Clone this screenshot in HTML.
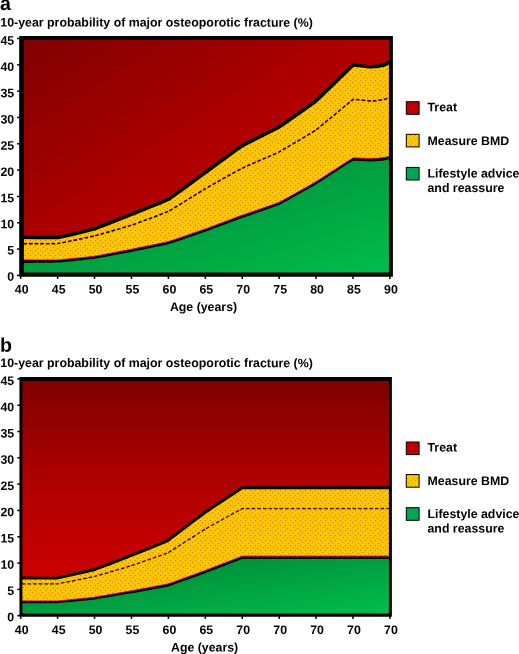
<!DOCTYPE html>
<html lang="en"><head><meta charset="utf-8"><title>Figure</title>
<style>
html,body{margin:0;padding:0;background:#fff;}
body{width:519px;height:654px;overflow:hidden;font-family:"Liberation Sans",Arial,sans-serif;}
svg{display:block;}
</style></head><body>
<svg width="519" height="654" viewBox="0 0 519 654">
<defs>
<linearGradient id="gred1" gradientUnits="userSpaceOnUse" x1="24.0" y1="40.2" x2="234.5" y2="370.7"><stop offset="0" stop-color="#800000"/><stop offset="0.233" stop-color="#980000"/><stop offset="0.37" stop-color="#a50000"/><stop offset="0.447" stop-color="#ad0000"/><stop offset="0.52" stop-color="#b10000"/><stop offset="1" stop-color="#c80000"/></linearGradient>
<linearGradient id="gred2" gradientUnits="userSpaceOnUse" x1="0" y1="380.8" x2="0" y2="613.1"><stop offset="0" stop-color="#800000"/><stop offset="0.168" stop-color="#910000"/><stop offset="0.42" stop-color="#ae0000"/><stop offset="0.77" stop-color="#c60000"/><stop offset="1" stop-color="#d00000"/></linearGradient>
<linearGradient id="ggreen1" gradientUnits="userSpaceOnUse" x1="24.0" y1="157.0" x2="90.5" y2="366.9"><stop offset="0" stop-color="#007f33"/><stop offset="1" stop-color="#00bd4c"/></linearGradient>
<linearGradient id="ggreen2" gradientUnits="userSpaceOnUse" x1="22.6" y1="558.8" x2="38.4" y2="665.1"><stop offset="0" stop-color="#007f33"/><stop offset="1" stop-color="#00bd4c"/></linearGradient>
<pattern id="dots" width="10" height="10" patternUnits="userSpaceOnUse"><g fill="#6e5200" fill-opacity="0.52"><rect x="0" y="0" width="1" height="1"/><rect x="5" y="0" width="1" height="1"/><rect x="2" y="2" width="1" height="1"/><rect x="8" y="3" width="1" height="1"/><rect x="0" y="5" width="1" height="1"/><rect x="5" y="5" width="1" height="1"/><rect x="3" y="7" width="1" height="1"/><rect x="7" y="8" width="1" height="1"/></g></pattern>
</defs>
<rect width="519" height="654" fill="#fff"/>
<g>
<clipPath id="clip1"><rect x="22.9" y="39.1" width="367.00" height="234.40"/></clipPath>
<g clip-path="url(#clip1)">
<rect x="22.9" y="39.1" width="367.00" height="234.40" fill="url(#gred1)"/>
<path d="M17.90,237.30 C17.90,237.30 20.70,237.30 20.70,237.30 C20.70,237.30 55.16,237.68 57.62,237.40 C60.08,237.12 90.85,229.95 94.54,228.80 C98.23,227.65 128.38,215.63 131.46,214.40 C134.54,213.17 165.30,201.04 168.38,199.30 C171.46,197.56 202.22,174.83 205.30,172.60 C208.38,170.37 239.14,147.70 242.22,145.80 C245.30,143.90 276.06,128.78 279.14,126.90 C282.22,125.03 312.37,103.88 316.06,100.80 C319.75,97.72 351.87,65.88 352.98,65.20 C354.09,64.52 366.79,66.83 371.44,66.80 C376.09,66.77 381.22,65.72 383.99,65.00 C386.76,64.28 389.35,62.15 389.90,62.00 C390.45,61.85 394.90,62.00 394.90,62.00 L394.9,278.5 L17.9,278.5 Z" fill="#FFC307"/>
<path d="M17.90,237.30 C17.90,237.30 20.70,237.30 20.70,237.30 C20.70,237.30 55.16,237.68 57.62,237.40 C60.08,237.12 90.85,229.95 94.54,228.80 C98.23,227.65 128.38,215.63 131.46,214.40 C134.54,213.17 165.30,201.04 168.38,199.30 C171.46,197.56 202.22,174.83 205.30,172.60 C208.38,170.37 239.14,147.70 242.22,145.80 C245.30,143.90 276.06,128.78 279.14,126.90 C282.22,125.03 312.37,103.88 316.06,100.80 C319.75,97.72 351.87,65.88 352.98,65.20 C354.09,64.52 366.79,66.83 371.44,66.80 C376.09,66.77 381.22,65.72 383.99,65.00 C386.76,64.28 389.35,62.15 389.90,62.00 C390.45,61.85 394.90,62.00 394.90,62.00 L394.9,278.5 L17.9,278.5 Z" fill="url(#dots)"/>
<path d="M17.90,259.90 C17.90,259.90 20.70,259.90 20.70,259.90 C20.70,259.90 55.16,260.07 57.62,259.95 C60.08,259.83 90.85,256.73 94.54,256.20 C98.23,255.67 128.38,249.91 131.46,249.30 C134.54,248.69 165.30,242.45 168.38,241.60 C171.46,240.75 202.22,230.10 205.30,229.00 C208.38,227.90 239.14,216.31 242.22,215.20 C245.30,214.09 276.06,203.70 279.14,202.30 C282.22,200.90 312.37,183.91 316.06,181.70 C319.75,179.48 351.87,158.46 352.98,158.00 C354.09,157.54 366.79,158.66 371.44,158.60 C376.09,158.54 381.22,157.99 383.99,157.60 C386.76,157.21 389.35,156.08 389.90,156.00 C390.45,155.92 394.90,156.00 394.90,156.00 L394.9,278.5 L17.9,278.5 Z" fill="#000"/>
<path d="M17.90,259.90 C17.90,259.90 20.70,259.90 20.70,259.90 C20.70,259.90 55.16,260.07 57.62,259.95 C60.08,259.83 90.85,256.73 94.54,256.20 C98.23,255.67 128.38,249.91 131.46,249.30 C134.54,248.69 165.30,242.45 168.38,241.60 C171.46,240.75 202.22,230.10 205.30,229.00 C208.38,227.90 239.14,216.31 242.22,215.20 C245.30,214.09 276.06,203.70 279.14,202.30 C282.22,200.90 312.37,183.91 316.06,181.70 C319.75,179.48 351.87,158.46 352.98,158.00 C354.09,157.54 366.79,158.66 371.44,158.60 C376.09,158.54 381.22,157.99 383.99,157.60 C386.76,157.21 389.35,156.08 389.90,156.00 C390.45,155.92 394.90,156.00 394.90,156.00" fill="none" stroke="#c40000" stroke-width="0.9"/>
<path d="M17.90,263.10 C17.90,263.10 20.70,263.10 20.70,263.10 C20.70,263.10 55.16,262.70 57.62,262.55 C60.08,262.40 90.85,259.23 94.54,258.70 C98.23,258.17 128.38,252.50 131.46,251.90 C134.54,251.30 165.30,245.14 168.38,244.30 C171.46,243.46 202.22,232.90 205.30,231.80 C208.38,230.70 239.14,219.11 242.22,218.00 C245.30,216.89 276.06,206.50 279.14,205.10 C282.22,203.70 312.37,186.72 316.06,184.50 C319.75,182.28 351.87,161.26 352.98,160.80 C354.09,160.34 366.79,161.46 371.44,161.40 C376.09,161.34 381.22,160.79 383.99,160.40 C386.76,160.01 389.35,158.88 389.90,158.80 C390.45,158.72 394.90,158.80 394.90,158.80 L394.9,278.5 L17.9,278.5 Z" fill="url(#ggreen1)"/>
<path d="M17.90,243.70 C17.90,243.70 20.70,243.70 20.70,243.70 C20.70,243.70 55.16,243.96 57.62,243.70 C60.08,243.44 90.85,236.92 94.54,236.00 C98.23,235.08 128.38,226.32 131.46,225.30 C134.54,224.28 165.30,213.02 168.38,211.50 C171.46,209.98 202.22,190.60 205.30,188.80 C208.38,187.00 239.14,169.83 242.22,168.30 C245.30,166.77 276.06,153.60 279.14,152.00 C282.22,150.40 312.37,132.62 316.06,130.00 C319.75,127.38 351.87,100.18 352.98,99.60 C354.09,99.02 366.79,101.00 371.44,101.00 C376.09,101.00 381.22,100.14 383.99,99.60 C386.76,99.06 389.35,97.51 389.90,97.40 C390.45,97.29 394.90,97.40 394.90,97.40" transform="translate(-0.3,-0.5)" fill="none" stroke="#c80000" stroke-width="0.78" stroke-dasharray="3.6 2"/>
<path d="M17.90,243.70 C17.90,243.70 20.70,243.70 20.70,243.70 C20.70,243.70 55.16,243.96 57.62,243.70 C60.08,243.44 90.85,236.92 94.54,236.00 C98.23,235.08 128.38,226.32 131.46,225.30 C134.54,224.28 165.30,213.02 168.38,211.50 C171.46,209.98 202.22,190.60 205.30,188.80 C208.38,187.00 239.14,169.83 242.22,168.30 C245.30,166.77 276.06,153.60 279.14,152.00 C282.22,150.40 312.37,132.62 316.06,130.00 C319.75,127.38 351.87,100.18 352.98,99.60 C354.09,99.02 366.79,101.00 371.44,101.00 C376.09,101.00 381.22,100.14 383.99,99.60 C386.76,99.06 389.35,97.51 389.90,97.40 C390.45,97.29 394.90,97.40 394.90,97.40" fill="none" stroke="#140000" stroke-width="1.37" stroke-dasharray="3.6 2"/>
<path d="M17.90,237.30 C17.90,237.30 20.70,237.30 20.70,237.30 C20.70,237.30 55.16,237.68 57.62,237.40 C60.08,237.12 90.85,229.95 94.54,228.80 C98.23,227.65 128.38,215.63 131.46,214.40 C134.54,213.17 165.30,201.04 168.38,199.30 C171.46,197.56 202.22,174.83 205.30,172.60 C208.38,170.37 239.14,147.70 242.22,145.80 C245.30,143.90 276.06,128.78 279.14,126.90 C282.22,125.03 312.37,103.88 316.06,100.80 C319.75,97.72 351.87,65.88 352.98,65.20 C354.09,64.52 366.79,66.83 371.44,66.80 C376.09,66.77 381.22,65.72 383.99,65.00 C386.76,64.28 389.35,62.15 389.90,62.00 C390.45,61.85 394.90,62.00 394.90,62.00" fill="none" stroke="#000" stroke-width="3.5" stroke-linejoin="round"/>
</g>
<path fill-rule="evenodd" fill="#000" d="M19.2,35.9 H392.9 V276.8 H19.2 Z M23.9,40.1 H388.9 V272.5 H23.9 Z"/>
<g font-family="Liberation Sans, Arial, Helvetica, sans-serif" font-weight="bold">
<line x1="17.10" y1="275.40" x2="19.7" y2="275.40" stroke="#000" stroke-width="1.5"/>
<text transform="translate(14.20,280.80) rotate(0.05)" text-anchor="end" font-size="12.35">0</text>
<line x1="17.10" y1="249.08" x2="19.7" y2="249.08" stroke="#000" stroke-width="1.5"/>
<text transform="translate(14.20,254.58) rotate(0.05)" text-anchor="end" font-size="12.35">5</text>
<line x1="17.10" y1="222.76" x2="19.7" y2="222.76" stroke="#000" stroke-width="1.5"/>
<text transform="translate(14.20,228.37) rotate(0.05)" text-anchor="end" font-size="12.35">10</text>
<line x1="17.10" y1="196.43" x2="19.7" y2="196.43" stroke="#000" stroke-width="1.5"/>
<text transform="translate(14.20,202.15) rotate(0.05)" text-anchor="end" font-size="12.35">15</text>
<line x1="17.10" y1="170.11" x2="19.7" y2="170.11" stroke="#000" stroke-width="1.5"/>
<text transform="translate(14.20,175.93) rotate(0.05)" text-anchor="end" font-size="12.35">20</text>
<line x1="17.10" y1="143.79" x2="19.7" y2="143.79" stroke="#000" stroke-width="1.5"/>
<text transform="translate(14.20,149.72) rotate(0.05)" text-anchor="end" font-size="12.35">25</text>
<line x1="17.10" y1="117.47" x2="19.7" y2="117.47" stroke="#000" stroke-width="1.5"/>
<text transform="translate(14.20,123.50) rotate(0.05)" text-anchor="end" font-size="12.35">30</text>
<line x1="17.10" y1="91.14" x2="19.7" y2="91.14" stroke="#000" stroke-width="1.5"/>
<text transform="translate(14.20,97.28) rotate(0.05)" text-anchor="end" font-size="12.35">35</text>
<line x1="17.10" y1="64.82" x2="19.7" y2="64.82" stroke="#000" stroke-width="1.5"/>
<text transform="translate(14.20,71.07) rotate(0.05)" text-anchor="end" font-size="12.35">40</text>
<line x1="17.10" y1="38.50" x2="19.7" y2="38.50" stroke="#000" stroke-width="1.5"/>
<text transform="translate(14.20,44.85) rotate(0.05)" text-anchor="end" font-size="12.35">45</text>
<line x1="20.70" y1="276.3" x2="20.70" y2="278.90" stroke="#000" stroke-width="1.5"/>
<text transform="translate(21.70,293.50) rotate(0.05)" text-anchor="middle" font-size="12.35">40</text>
<line x1="57.62" y1="276.3" x2="57.62" y2="278.90" stroke="#000" stroke-width="1.5"/>
<text transform="translate(58.62,293.50) rotate(0.05)" text-anchor="middle" font-size="12.35">45</text>
<line x1="94.54" y1="276.3" x2="94.54" y2="278.90" stroke="#000" stroke-width="1.5"/>
<text transform="translate(95.54,293.50) rotate(0.05)" text-anchor="middle" font-size="12.35">50</text>
<line x1="131.46" y1="276.3" x2="131.46" y2="278.90" stroke="#000" stroke-width="1.5"/>
<text transform="translate(132.46,293.50) rotate(0.05)" text-anchor="middle" font-size="12.35">55</text>
<line x1="168.38" y1="276.3" x2="168.38" y2="278.90" stroke="#000" stroke-width="1.5"/>
<text transform="translate(169.38,293.50) rotate(0.05)" text-anchor="middle" font-size="12.35">60</text>
<line x1="205.30" y1="276.3" x2="205.30" y2="278.90" stroke="#000" stroke-width="1.5"/>
<text transform="translate(206.30,293.50) rotate(0.05)" text-anchor="middle" font-size="12.35">65</text>
<line x1="242.22" y1="276.3" x2="242.22" y2="278.90" stroke="#000" stroke-width="1.5"/>
<text transform="translate(243.22,293.50) rotate(0.05)" text-anchor="middle" font-size="12.35">70</text>
<line x1="279.14" y1="276.3" x2="279.14" y2="278.90" stroke="#000" stroke-width="1.5"/>
<text transform="translate(280.14,293.50) rotate(0.05)" text-anchor="middle" font-size="12.35">75</text>
<line x1="316.06" y1="276.3" x2="316.06" y2="278.90" stroke="#000" stroke-width="1.5"/>
<text transform="translate(317.06,293.50) rotate(0.05)" text-anchor="middle" font-size="12.35">80</text>
<line x1="352.98" y1="276.3" x2="352.98" y2="278.90" stroke="#000" stroke-width="1.5"/>
<text transform="translate(353.98,293.50) rotate(0.05)" text-anchor="middle" font-size="12.35">85</text>
<line x1="389.90" y1="276.3" x2="389.90" y2="278.90" stroke="#000" stroke-width="1.5"/>
<text transform="translate(390.90,293.50) rotate(0.05)" text-anchor="middle" font-size="12.35">90</text>
<text transform="translate(0.00,10.10) rotate(0.05)" font-size="19.6">a</text>
<text transform="translate(0.30,26.40) rotate(0.05)" font-size="12.36">10-year probability of major osteoporotic fracture (%)</text>
<text transform="translate(203.50,311.00) rotate(0.05)" text-anchor="middle" font-size="12.35">Age (years)</text>
<rect x="406.3" y="101.70" width="12.8" height="12.6" fill="#C00000" stroke="#000" stroke-width="1"/>
<text transform="translate(427.50,111.25) rotate(0.05)" font-size="12.35">Treat</text>
<rect x="406.3" y="134.30" width="12.8" height="12.6" fill="#FFC307" stroke="#000" stroke-width="1"/>
<rect x="406.8" y="134.80" width="11.8" height="11.6" fill="url(#dots)" opacity="0.6"/>
<text transform="translate(427.50,145.00) rotate(0.05)" font-size="12.35">Measure BMD</text>
<rect x="406.3" y="167.40" width="12.8" height="12.6" fill="#00A651" stroke="#000" stroke-width="1"/>
<text transform="translate(427.50,177.50) rotate(0.05)" font-size="12.35">Lifestyle advice</text>
<text transform="translate(427.50,192.00) rotate(0.05)" font-size="12.35">and reassure</text>
</g>
</g>
<g>
<clipPath id="clip2"><rect x="21.4" y="380.0" width="368.50" height="234.50"/></clipPath>
<g clip-path="url(#clip2)">
<rect x="21.4" y="380.0" width="368.50" height="234.50" fill="url(#gred2)"/>
<path d="M16.40,578.00 C16.40,578.00 20.70,578.00 20.70,578.00 C20.70,578.00 56.39,578.24 57.62,578.10 C58.85,577.96 92.69,570.07 94.54,569.50 C96.39,568.93 129.61,556.13 131.46,555.40 C133.31,554.67 167.15,540.92 168.38,540.20 C169.61,539.48 204.07,513.08 205.30,512.20 C206.53,511.33 242.22,487.70 242.22,487.70 C242.22,487.70 279.14,487.70 279.14,487.70 C279.14,487.70 389.90,487.70 389.90,487.70 C389.90,487.70 394.90,487.70 394.90,487.70 L394.9,619.5 L16.4,619.5 Z" fill="#FFC307"/>
<path d="M16.40,578.00 C16.40,578.00 20.70,578.00 20.70,578.00 C20.70,578.00 56.39,578.24 57.62,578.10 C58.85,577.96 92.69,570.07 94.54,569.50 C96.39,568.93 129.61,556.13 131.46,555.40 C133.31,554.67 167.15,540.92 168.38,540.20 C169.61,539.48 204.07,513.08 205.30,512.20 C206.53,511.33 242.22,487.70 242.22,487.70 C242.22,487.70 279.14,487.70 279.14,487.70 C279.14,487.70 389.90,487.70 389.90,487.70 C389.90,487.70 394.90,487.70 394.90,487.70 L394.9,619.5 L16.4,619.5 Z" fill="url(#dots)"/>
<path d="M16.40,600.95 C16.40,600.95 20.70,600.95 20.70,600.95 C20.70,600.95 56.39,601.01 57.62,600.95 C58.85,600.89 92.69,597.45 94.54,597.20 C96.39,596.95 129.61,591.19 131.46,590.85 C133.31,590.51 167.15,584.14 168.38,583.80 C169.61,583.46 204.07,570.91 205.30,570.45 C206.53,569.99 242.22,556.15 242.22,556.15 C242.22,556.15 279.14,556.15 279.14,556.15 C279.14,556.15 389.90,556.15 389.90,556.15 C389.90,556.15 394.90,556.15 394.90,556.15 L394.9,619.5 L16.4,619.5 Z" fill="#000"/>
<path d="M16.40,600.95 C16.40,600.95 20.70,600.95 20.70,600.95 C20.70,600.95 56.39,601.01 57.62,600.95 C58.85,600.89 92.69,597.45 94.54,597.20 C96.39,596.95 129.61,591.19 131.46,590.85 C133.31,590.51 167.15,584.14 168.38,583.80 C169.61,583.46 204.07,570.91 205.30,570.45 C206.53,569.99 242.22,556.15 242.22,556.15 C242.22,556.15 279.14,556.15 279.14,556.15 C279.14,556.15 389.90,556.15 389.90,556.15 C389.90,556.15 394.90,556.15 394.90,556.15" fill="none" stroke="#c40000" stroke-width="0.9"/>
<path d="M16.40,603.25 C16.40,603.25 20.70,603.25 20.70,603.25 C20.70,603.25 56.39,603.31 57.62,603.25 C58.85,603.19 92.69,599.85 94.54,599.60 C96.39,599.35 129.61,593.68 131.46,593.35 C133.31,593.02 167.15,586.74 168.38,586.40 C169.61,586.06 204.07,573.61 205.30,573.15 C206.53,572.69 242.22,559.05 242.22,559.05 C242.22,559.05 279.14,559.05 279.14,559.05 C279.14,559.05 389.90,559.05 389.90,559.05 C389.90,559.05 394.90,559.05 394.90,559.05 L394.9,619.5 L16.4,619.5 Z" fill="url(#ggreen2)"/>
<path d="M16.40,583.90 C16.40,583.90 20.70,583.90 20.70,583.90 C20.70,583.90 56.39,584.02 57.62,583.90 C58.85,583.78 92.69,577.05 94.54,576.60 C96.39,576.15 129.61,566.40 131.46,565.80 C133.31,565.20 167.15,553.31 168.38,552.70 C169.61,552.09 204.07,529.83 205.30,529.10 C206.53,528.37 242.22,508.70 242.22,508.70 C242.22,508.70 279.14,508.70 279.14,508.70 C279.14,508.70 389.90,508.70 389.90,508.70 C389.90,508.70 394.90,508.70 394.90,508.70" transform="translate(-0.3,-0.5)" fill="none" stroke="#c80000" stroke-width="0.60" stroke-dasharray="3.6 2"/>
<path d="M16.40,583.90 C16.40,583.90 20.70,583.90 20.70,583.90 C20.70,583.90 56.39,584.02 57.62,583.90 C58.85,583.78 92.69,577.05 94.54,576.60 C96.39,576.15 129.61,566.40 131.46,565.80 C133.31,565.20 167.15,553.31 168.38,552.70 C169.61,552.09 204.07,529.83 205.30,529.10 C206.53,528.37 242.22,508.70 242.22,508.70 C242.22,508.70 279.14,508.70 279.14,508.70 C279.14,508.70 389.90,508.70 389.90,508.70 C389.90,508.70 394.90,508.70 394.90,508.70" fill="none" stroke="#140000" stroke-width="1.05" stroke-dasharray="3.6 2"/>
<path d="M16.40,578.00 C16.40,578.00 20.70,578.00 20.70,578.00 C20.70,578.00 56.39,578.24 57.62,578.10 C58.85,577.96 92.69,570.07 94.54,569.50 C96.39,568.93 129.61,556.13 131.46,555.40 C133.31,554.67 167.15,540.92 168.38,540.20 C169.61,539.48 204.07,513.08 205.30,512.20 C206.53,511.33 242.22,487.70 242.22,487.70 C242.22,487.70 279.14,487.70 279.14,487.70 C279.14,487.70 389.90,487.70 389.90,487.70 C389.90,487.70 394.90,487.70 394.90,487.70" fill="none" stroke="#000" stroke-width="2.9" stroke-linejoin="round"/>
</g>
<path fill-rule="evenodd" fill="#000" d="M19.45,377.0 H391.9 V616.8 H19.45 Z M22.4,381.0 H388.9 V613.5 H22.4 Z"/>
<g font-family="Liberation Sans, Arial, Helvetica, sans-serif" font-weight="bold">
<line x1="17.35" y1="615.70" x2="19.95" y2="615.70" stroke="#000" stroke-width="1.5"/>
<text transform="translate(14.20,621.30) rotate(0.05)" text-anchor="end" font-size="12.35">0</text>
<line x1="17.35" y1="589.39" x2="19.95" y2="589.39" stroke="#000" stroke-width="1.5"/>
<text transform="translate(14.20,595.03) rotate(0.05)" text-anchor="end" font-size="12.35">5</text>
<line x1="17.35" y1="563.08" x2="19.95" y2="563.08" stroke="#000" stroke-width="1.5"/>
<text transform="translate(14.20,568.77) rotate(0.05)" text-anchor="end" font-size="12.35">10</text>
<line x1="17.35" y1="536.77" x2="19.95" y2="536.77" stroke="#000" stroke-width="1.5"/>
<text transform="translate(14.20,542.50) rotate(0.05)" text-anchor="end" font-size="12.35">15</text>
<line x1="17.35" y1="510.46" x2="19.95" y2="510.46" stroke="#000" stroke-width="1.5"/>
<text transform="translate(14.20,516.23) rotate(0.05)" text-anchor="end" font-size="12.35">20</text>
<line x1="17.35" y1="484.14" x2="19.95" y2="484.14" stroke="#000" stroke-width="1.5"/>
<text transform="translate(14.20,489.97) rotate(0.05)" text-anchor="end" font-size="12.35">25</text>
<line x1="17.35" y1="457.83" x2="19.95" y2="457.83" stroke="#000" stroke-width="1.5"/>
<text transform="translate(14.20,463.70) rotate(0.05)" text-anchor="end" font-size="12.35">30</text>
<line x1="17.35" y1="431.52" x2="19.95" y2="431.52" stroke="#000" stroke-width="1.5"/>
<text transform="translate(14.20,437.43) rotate(0.05)" text-anchor="end" font-size="12.35">35</text>
<line x1="17.35" y1="405.21" x2="19.95" y2="405.21" stroke="#000" stroke-width="1.5"/>
<text transform="translate(14.20,411.17) rotate(0.05)" text-anchor="end" font-size="12.35">40</text>
<line x1="17.35" y1="378.90" x2="19.95" y2="378.90" stroke="#000" stroke-width="1.5"/>
<text transform="translate(14.20,384.90) rotate(0.05)" text-anchor="end" font-size="12.35">45</text>
<line x1="20.70" y1="616.3" x2="20.70" y2="618.90" stroke="#000" stroke-width="1.5"/>
<text transform="translate(21.70,634.00) rotate(0.05)" text-anchor="middle" font-size="12.35">40</text>
<line x1="57.62" y1="616.3" x2="57.62" y2="618.90" stroke="#000" stroke-width="1.5"/>
<text transform="translate(58.62,634.00) rotate(0.05)" text-anchor="middle" font-size="12.35">45</text>
<line x1="94.54" y1="616.3" x2="94.54" y2="618.90" stroke="#000" stroke-width="1.5"/>
<text transform="translate(95.54,634.00) rotate(0.05)" text-anchor="middle" font-size="12.35">50</text>
<line x1="131.46" y1="616.3" x2="131.46" y2="618.90" stroke="#000" stroke-width="1.5"/>
<text transform="translate(132.46,634.00) rotate(0.05)" text-anchor="middle" font-size="12.35">55</text>
<line x1="168.38" y1="616.3" x2="168.38" y2="618.90" stroke="#000" stroke-width="1.5"/>
<text transform="translate(169.38,634.00) rotate(0.05)" text-anchor="middle" font-size="12.35">60</text>
<line x1="205.30" y1="616.3" x2="205.30" y2="618.90" stroke="#000" stroke-width="1.5"/>
<text transform="translate(206.30,634.00) rotate(0.05)" text-anchor="middle" font-size="12.35">65</text>
<line x1="242.22" y1="616.3" x2="242.22" y2="618.90" stroke="#000" stroke-width="1.5"/>
<text transform="translate(243.22,634.00) rotate(0.05)" text-anchor="middle" font-size="12.35">70</text>
<line x1="279.14" y1="616.3" x2="279.14" y2="618.90" stroke="#000" stroke-width="1.5"/>
<text transform="translate(280.14,634.00) rotate(0.05)" text-anchor="middle" font-size="12.35">70</text>
<line x1="316.06" y1="616.3" x2="316.06" y2="618.90" stroke="#000" stroke-width="1.5"/>
<text transform="translate(317.06,634.00) rotate(0.05)" text-anchor="middle" font-size="12.35">70</text>
<line x1="352.98" y1="616.3" x2="352.98" y2="618.90" stroke="#000" stroke-width="1.5"/>
<text transform="translate(353.98,634.00) rotate(0.05)" text-anchor="middle" font-size="12.35">70</text>
<line x1="389.90" y1="616.3" x2="389.90" y2="618.90" stroke="#000" stroke-width="1.5"/>
<text transform="translate(390.90,634.00) rotate(0.05)" text-anchor="middle" font-size="12.35">70</text>
<text transform="translate(0.00,351.80) rotate(0.05)" font-size="19.6">b</text>
<text transform="translate(0.30,366.90) rotate(0.05)" font-size="12.36">10-year probability of major osteoporotic fracture (%)</text>
<text transform="translate(204.60,651.50) rotate(0.05)" text-anchor="middle" font-size="12.35">Age (years)</text>
<rect x="406.3" y="442.00" width="12.8" height="12.6" fill="#C00000" stroke="#000" stroke-width="1"/>
<text transform="translate(427.50,451.50) rotate(0.05)" font-size="12.35">Treat</text>
<rect x="406.3" y="474.60" width="12.8" height="12.6" fill="#FFC307" stroke="#000" stroke-width="1"/>
<rect x="406.8" y="475.10" width="11.8" height="11.6" fill="url(#dots)" opacity="0.6"/>
<text transform="translate(427.50,485.00) rotate(0.05)" font-size="12.35">Measure BMD</text>
<rect x="406.3" y="507.70" width="12.8" height="12.6" fill="#00A651" stroke="#000" stroke-width="1"/>
<text transform="translate(427.50,518.00) rotate(0.05)" font-size="12.35">Lifestyle advice</text>
<text transform="translate(427.50,532.50) rotate(0.05)" font-size="12.35">and reassure</text>
</g>
</g>
</svg>
</body></html>
